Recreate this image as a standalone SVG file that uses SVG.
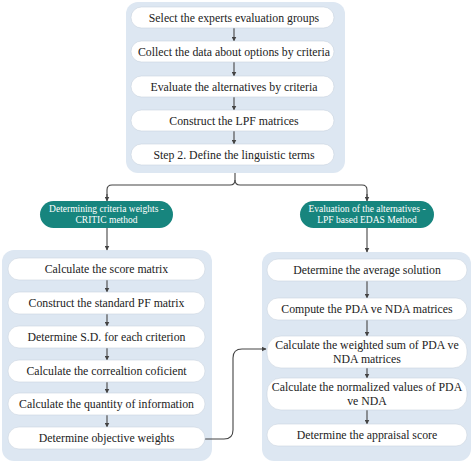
<svg xmlns="http://www.w3.org/2000/svg" width="474" height="463" viewBox="0 0 474 463">
<defs>
<marker id="ah" viewBox="0 0 10 10" refX="9" refY="5" markerWidth="5" markerHeight="5" orient="auto" markerUnits="userSpaceOnUse">
<path d="M0,0 L10,5 L0,10 z" fill="#444"/>
</marker>
</defs>

<g id="containers" fill="#dde7f2">
<g id="container-top"><rect x="126" y="2" width="219" height="171" rx="12"/></g>
<g id="container-left"><rect x="2" y="250" width="210" height="211" rx="12"/></g>
<g id="container-right"><rect x="262" y="252" width="209" height="209" rx="12"/></g>
</g>

<g id="connectors" fill="none" stroke="#444" stroke-width="1.1">
<path marker-end="url(#ah)" d="M234,28 V41"/>
<path marker-end="url(#ah)" d="M234,62 V76"/>
<path marker-end="url(#ah)" d="M234,97 V110"/>
<path marker-end="url(#ah)" d="M234,131 V144"/>
<path d="M235,173 V180 Q235,185 230,185 H112 Q107,185 107,190 V200"/>
<path marker-end="url(#ah)" d="M107,194 V201"/>
<path d="M235,180 Q235,185 240,185 H362 Q367,185 367,190 V200"/>
<path marker-end="url(#ah)" d="M367,194 V201"/>
<path marker-end="url(#ah)" d="M107,228 V250"/>
<path marker-end="url(#ah)" d="M367,228 V252"/>
<path marker-end="url(#ah)" d="M107,280 V292"/>
<path marker-end="url(#ah)" d="M107,314 V326"/>
<path marker-end="url(#ah)" d="M107,348 V360"/>
<path marker-end="url(#ah)" d="M107,382 V393"/>
<path marker-end="url(#ah)" d="M107,415 V427"/>
<path marker-end="url(#ah)" d="M367,281 V298"/>
<path marker-end="url(#ah)" d="M367,320 V336"/>
<path marker-end="url(#ah)" d="M367,368 V378"/>
<path marker-end="url(#ah)" d="M367,410 V424"/>
<path marker-end="url(#ah)" d="M205,439 H224 Q233,439 233,430 V358 Q233,349 242,349 H266"/>
</g>

<g id="steps" fill="#ffffff" stroke="#c9d3df" stroke-width="0.6">
<rect x="131" y="7" width="203" height="21" rx="10.5"/>
<rect x="131" y="41" width="203" height="21" rx="10.5"/>
<rect x="131" y="76" width="203" height="21" rx="10.5"/>
<rect x="131" y="110" width="203" height="21" rx="10.5"/>
<rect x="131" y="144" width="203" height="21" rx="10.5"/>
<rect x="8" y="258" width="197" height="22" rx="11"/>
<rect x="8" y="292" width="197" height="22" rx="11"/>
<rect x="8" y="326" width="197" height="22" rx="11"/>
<rect x="8" y="360" width="197" height="22" rx="11"/>
<rect x="8" y="393" width="197" height="22" rx="11"/>
<rect x="8" y="427" width="197" height="22" rx="11"/>
<rect x="267" y="259" width="200" height="22" rx="11"/>
<rect x="267" y="298" width="200" height="22" rx="11"/>
<rect x="267" y="336" width="200" height="32" rx="14"/>
<rect x="267" y="378" width="200" height="32" rx="14"/>
<rect x="267" y="424" width="200" height="22" rx="11"/>
</g>

<g id="headers" fill="#17857e">
<rect x="40" y="201" width="133" height="27" rx="13.5"/>
<rect x="300" y="201" width="134" height="27" rx="13.5"/>
</g>

<g id="labels" font-family="Liberation Serif" font-size="11.8" fill="#222" text-anchor="middle">
<g id="n1"><text x="234" y="21.5">Select the experts evaluation groups</text></g>
<g id="n2"><text x="234" y="55.5">Collect the data about options by criteria</text></g>
<g id="n3"><text x="234" y="90.5">Evaluate the alternatives by criteria</text></g>
<g id="n4"><text x="234" y="124.5">Construct the LPF matrices</text></g>
<g id="n5"><text x="234" y="158.5">Step 2. Define the linguistic terms</text></g>
<g id="h1" font-size="9.5" fill="#ffffff"><text x="106.5" y="212.3">Determining criteria weights -</text><text x="106.5" y="223.3">CRITIC method</text></g>
<g id="h2" font-size="9.5" fill="#ffffff"><text x="367" y="212.3">Evaluation of the alternatives -</text><text x="367" y="223.3">LPF based EDAS Method</text></g>
<g id="l1"><text x="106.5" y="273">Calculate the score matrix</text></g>
<g id="l2"><text x="106.5" y="307">Construct the standard PF matrix</text></g>
<g id="l3"><text x="106.5" y="341">Determine S.D. for each criterion</text></g>
<g id="l4"><text x="106.5" y="375">Calculate the correaltion coficient</text></g>
<g id="l5"><text x="106.5" y="408">Calculate the quantity of information</text></g>
<g id="l6"><text x="106.5" y="442">Determine objective weights</text></g>
<g id="r1"><text x="367" y="274">Determine the average solution</text></g>
<g id="r2"><text x="367" y="313">Compute the PDA ve NDA matrices</text></g>
<g id="r3"><text x="367" y="348.5">Calculate the weighted sum of PDA ve</text><text x="367" y="363">NDA matrices</text></g>
<g id="r4"><text x="367" y="390.5">Calculate the normalized values of PDA</text><text x="367" y="405">ve NDA</text></g>
<g id="r5"><text x="367" y="439">Determine the appraisal score</text></g>
</g>
</svg>
